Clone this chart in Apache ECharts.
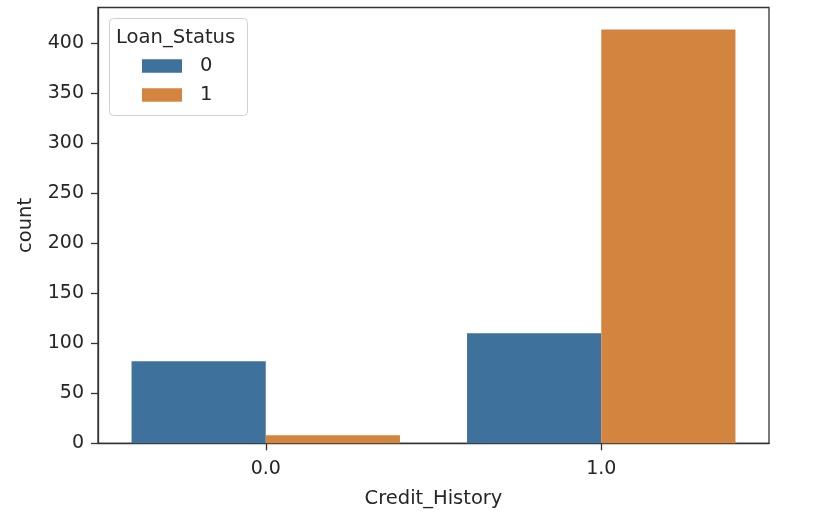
<!DOCTYPE html>
<html><head><meta charset="utf-8">
<script src="https://cdn.jsdelivr.net/npm/echarts@6/dist/echarts.min.js"></script>
<style>html,body{margin:0;padding:0;background:#fff}#c{width:836px;height:522px}</style>
</head><body><div id="c"></div>
<script>
const categories = ['0.0', '1.0'];
const status0 = [82, 110];
const status1 = [8, 414];
const yTicks = [0, 50, 100, 150, 200, 250, 300, 350, 400];
const seriesNames = ['0', '1'];

const FONT = 'DejaVu Sans';
const TXT = '#262626';
const chart = echarts.init(document.getElementById('c'), null, {renderer: 'canvas'});
chart.setOption({
  animation: false,
  textStyle: {fontFamily: FONT},
  grid: {left: 98, right: 67, top: 7.5, bottom: 78.7, show: true, borderColor: '#333', borderWidth: 1.3, containLabel: false},
  legend: {
    orient: 'vertical', left: 142, top: 56, padding: 0, itemWidth: 40, itemHeight: 13.5, itemGap: 9,
    icon: 'rect',
    textStyle: {fontFamily: FONT, fontSize: 19.5, color: TXT, padding: [0, 0, 0, 13]},
    data: seriesNames
  },
  graphic: [
    {type: 'rect', left: 109, top: 18, shape: {width: 138, height: 97, r: 4}, style: {fill: 'rgba(255,255,255,0.8)', stroke: '#d0d0d0', lineWidth: 1}, z: 0},
    {type: 'text', left: 116, top: 28, style: {text: 'Loan_Status', font: '19.6px "DejaVu Sans"', fill: TXT}, z: 5}
  ],
  xAxis: {
    type: 'category', data: categories, name: 'Credit_History', nameLocation: 'middle', nameGap: 46,
    nameTextStyle: {fontSize: 19.5, color: TXT, fontFamily: FONT},
    axisLine: {show: true, lineStyle: {color: '#333', width: 1.3}},
    axisTick: {show: true, alignWithLabel: true, length: 7, inside: false, lineStyle: {color: '#333', width: 1.3}},
    axisLabel: {fontSize: 19, color: TXT, margin: 16, fontFamily: FONT},
    splitLine: {show: false}
  },
  yAxis: {
    type: 'value', min: 0, max: 436, interval: 50, name: 'count', nameLocation: 'middle', nameGap: 62,
    nameTextStyle: {fontSize: 19.5, color: TXT, fontFamily: FONT},
    axisLine: {show: true, lineStyle: {color: '#333', width: 1.3}},
    axisTick: {show: true, length: 7, customValues: yTicks, lineStyle: {color: '#333', width: 1.3}},
    axisLabel: {fontSize: 19, color: TXT, margin: 14, customValues: yTicks, fontFamily: FONT},
    splitLine: {show: false}
  },
  series: [
    {name: seriesNames[0], type: 'bar', data: status0, barGap: '0%', barCategoryGap: '20%', itemStyle: {color: '#3e719b'}},
    {name: seriesNames[1], type: 'bar', data: status1, barGap: '0%', barCategoryGap: '20%', itemStyle: {color: '#d3843e'}}
  ]
});
</script></body></html>
